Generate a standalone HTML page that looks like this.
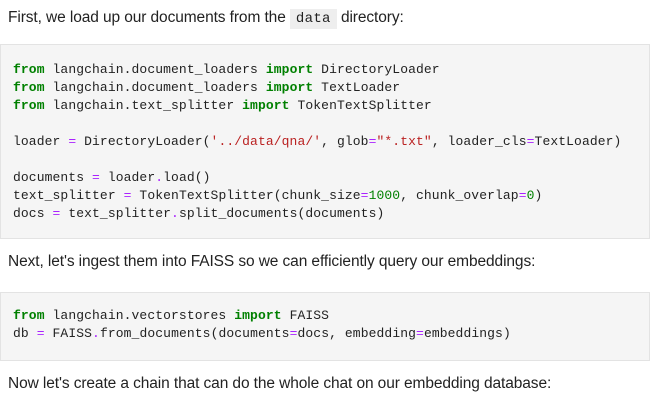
<!DOCTYPE html>
<html><head><style>
body{margin:0;width:650px;height:403px;background:#fff;overflow:hidden;font-family:"Liberation Sans",sans-serif;color:#222}
.t{position:absolute;left:8px;font-size:15.5px;line-height:18px;letter-spacing:-0.1px}
.cb{position:absolute;left:0;width:648px;background:#f5f5f5;border:1px solid #e3e3e3}
pre{margin:0;position:absolute;left:13px;font-family:"Liberation Mono",monospace;font-size:13px;line-height:18px;color:#222;letter-spacing:0.1px}
.k{color:#008000;font-weight:bold}.o{color:#aa22ff}.s{color:#ba2121}.n{color:#008000}
code{font-family:"Liberation Mono",monospace;background:#eee;padding:2px 6px;font-size:14px;letter-spacing:0.3px}
</style></head><body>
<div class="t" style="top:9px">First, we load up our documents from the <code>data</code> directory:</div>
<div class="cb" style="top:44px;height:193px"></div>
<pre style="top:61px"><span class="k">from</span> langchain.document_loaders <span class="k">import</span> DirectoryLoader
<span class="k">from</span> langchain.document_loaders <span class="k">import</span> TextLoader
<span class="k">from</span> langchain.text_splitter <span class="k">import</span> TokenTextSplitter

loader <span class="o">=</span> DirectoryLoader(<span class="s">'../data/qna/'</span>, glob<span class="o">=</span><span class="s">"*.txt"</span>, loader_cls<span class="o">=</span>TextLoader)

documents <span class="o">=</span> loader<span class="o">.</span>load()
text_splitter <span class="o">=</span> TokenTextSplitter(chunk_size<span class="o">=</span><span class="n">1000</span>, chunk_overlap<span class="o">=</span><span class="n">0</span>)
docs <span class="o">=</span> text_splitter<span class="o">.</span>split_documents(documents)</pre>
<div class="t" style="top:253px">Next, let's ingest them into FAISS so we can efficiently query our embeddings:</div>
<div class="cb" style="top:292px;height:67px"></div>
<pre style="top:307px"><span class="k">from</span> langchain.vectorstores <span class="k">import</span> FAISS
db <span class="o">=</span> FAISS<span class="o">.</span>from_documents(documents<span class="o">=</span>docs, embedding<span class="o">=</span>embeddings)</pre>
<div class="t" style="top:375px">Now let's create a chain that can do the whole chat on our embedding database:</div>
</body></html>
